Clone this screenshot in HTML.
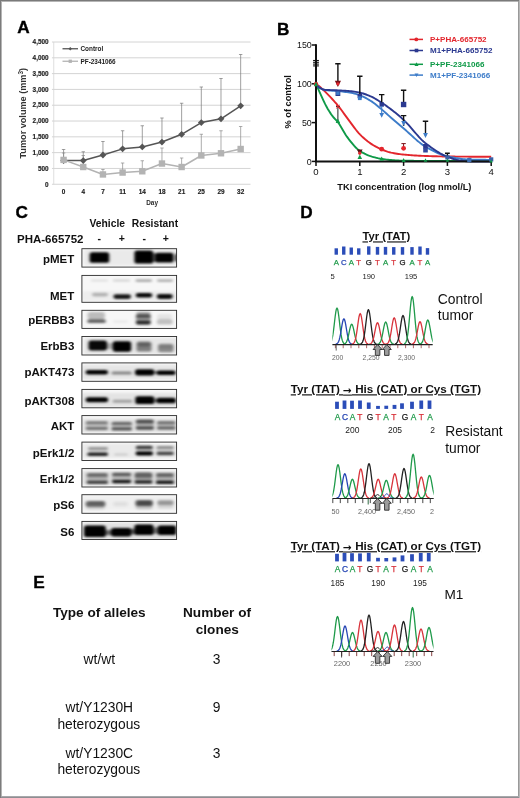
<!DOCTYPE html>
<html lang="en"><head><meta charset="utf-8"><title>Figure</title>
<style>html,body{margin:0;padding:0;background:#fff}body{width:520px;height:798px;overflow:hidden}svg{display:block;font-family:"Liberation Sans",Arial,sans-serif}</style></head><body>
<svg width="520" height="798" viewBox="0 0 520 798">
<defs><filter id="blur" x="-20%" y="-50%" width="140%" height="200%"><feGaussianBlur stdDeviation="1.35 1.05"/></filter></defs>
<rect x="0" y="0" width="520" height="798" fill="#fff"/>
<g shape-rendering="crispEdges"><rect x="0" y="0" width="520" height="1" fill="#7a7a7a"/><rect x="1" y="1" width="518" height="1" fill="#b5b5b5"/><rect x="0" y="796" width="520" height="1" fill="#a8a8ab"/><rect x="0" y="797" width="520" height="1" fill="#8e8e92"/><rect x="0" y="0" width="1" height="798" fill="#7c7c7c"/><rect x="1" y="1" width="1" height="795" fill="#b5b5b5"/><rect x="518" y="1" width="1" height="795" fill="#999"/><rect x="519" y="0" width="1" height="798" fill="#b8b8b8"/></g>
<g id="panelA">
<text x="17.2" y="33.1" font-size="17.2" font-weight="bold" fill="#000" text-anchor="start" stroke="#000" stroke-width="0.35">A</text>
<line x1="51.95" x2="250.5" y1="184.25" y2="184.25" stroke="#c6c6c6" stroke-width="0.75"/>
<text x="48.6" y="186.5" font-size="6.4" font-weight="bold" fill="#222" text-anchor="end" stroke="#222" stroke-width="0.15">0</text>
<line x1="51.95" x2="250.5" y1="168.44" y2="168.44" stroke="#c6c6c6" stroke-width="0.75"/>
<text x="48.6" y="170.69" font-size="6.4" font-weight="bold" fill="#222" text-anchor="end" stroke="#222" stroke-width="0.15">500</text>
<line x1="51.95" x2="250.5" y1="152.64" y2="152.64" stroke="#c6c6c6" stroke-width="0.75"/>
<text x="48.6" y="154.89" font-size="6.4" font-weight="bold" fill="#222" text-anchor="end" stroke="#222" stroke-width="0.15">1,000</text>
<line x1="51.95" x2="250.5" y1="136.83" y2="136.83" stroke="#c6c6c6" stroke-width="0.75"/>
<text x="48.6" y="139.08" font-size="6.4" font-weight="bold" fill="#222" text-anchor="end" stroke="#222" stroke-width="0.15">1,500</text>
<line x1="51.95" x2="250.5" y1="121.03" y2="121.03" stroke="#c6c6c6" stroke-width="0.75"/>
<text x="48.6" y="123.28" font-size="6.4" font-weight="bold" fill="#222" text-anchor="end" stroke="#222" stroke-width="0.15">2,000</text>
<line x1="51.95" x2="250.5" y1="105.22" y2="105.22" stroke="#c6c6c6" stroke-width="0.75"/>
<text x="48.6" y="107.47" font-size="6.4" font-weight="bold" fill="#222" text-anchor="end" stroke="#222" stroke-width="0.15">2,500</text>
<line x1="51.95" x2="250.5" y1="89.42" y2="89.42" stroke="#c6c6c6" stroke-width="0.75"/>
<text x="48.6" y="91.67" font-size="6.4" font-weight="bold" fill="#222" text-anchor="end" stroke="#222" stroke-width="0.15">3,000</text>
<line x1="51.95" x2="250.5" y1="73.61" y2="73.61" stroke="#c6c6c6" stroke-width="0.75"/>
<text x="48.6" y="75.86" font-size="6.4" font-weight="bold" fill="#222" text-anchor="end" stroke="#222" stroke-width="0.15">3,500</text>
<line x1="51.95" x2="250.5" y1="57.81" y2="57.81" stroke="#c6c6c6" stroke-width="0.75"/>
<text x="48.6" y="60.06" font-size="6.4" font-weight="bold" fill="#222" text-anchor="end" stroke="#222" stroke-width="0.15">4,000</text>
<line x1="51.95" x2="250.5" y1="42" y2="42" stroke="#c6c6c6" stroke-width="0.75"/>
<text x="48.6" y="44.25" font-size="6.4" font-weight="bold" fill="#222" text-anchor="end" stroke="#222" stroke-width="0.15">4,500</text>
<line x1="53.75" x2="53.75" y1="42" y2="184.25" stroke="#d6d6d6" stroke-width="0.8"/>
<text x="63.59" y="194.4" font-size="6.4" font-weight="bold" fill="#222" text-anchor="middle" stroke="#222" stroke-width="0.15">0</text>
<text x="83.26" y="194.4" font-size="6.4" font-weight="bold" fill="#222" text-anchor="middle" stroke="#222" stroke-width="0.15">4</text>
<text x="102.94" y="194.4" font-size="6.4" font-weight="bold" fill="#222" text-anchor="middle" stroke="#222" stroke-width="0.15">7</text>
<text x="122.61" y="194.4" font-size="6.4" font-weight="bold" fill="#222" text-anchor="middle" stroke="#222" stroke-width="0.15">11</text>
<text x="142.29" y="194.4" font-size="6.4" font-weight="bold" fill="#222" text-anchor="middle" stroke="#222" stroke-width="0.15">14</text>
<text x="161.96" y="194.4" font-size="6.4" font-weight="bold" fill="#222" text-anchor="middle" stroke="#222" stroke-width="0.15">18</text>
<text x="181.64" y="194.4" font-size="6.4" font-weight="bold" fill="#222" text-anchor="middle" stroke="#222" stroke-width="0.15">21</text>
<text x="201.31" y="194.4" font-size="6.4" font-weight="bold" fill="#222" text-anchor="middle" stroke="#222" stroke-width="0.15">25</text>
<text x="220.99" y="194.4" font-size="6.4" font-weight="bold" fill="#222" text-anchor="middle" stroke="#222" stroke-width="0.15">29</text>
<text x="240.66" y="194.4" font-size="6.4" font-weight="bold" fill="#222" text-anchor="middle" stroke="#222" stroke-width="0.15">32</text>
<text x="152.1" y="204.8" font-size="6.4" font-weight="bold" fill="#2a2a2a" text-anchor="middle">Day</text>
<text transform="translate(25.8,113.2) rotate(-90)" font-size="9.15" font-weight="bold" fill="#333" text-anchor="middle">Tumor volume (mm<tspan font-size="6.5" dy="-3.2">3</tspan><tspan dy="3.2">)</tspan></text>
<path d="M63.59 160.54V149.5M61.89 149.5H65.29" stroke="#777" stroke-width="0.7" fill="none"/>
<path d="M83.26 160.54V151.75M81.56 151.75H84.96" stroke="#777" stroke-width="0.7" fill="none"/>
<path d="M102.94 155.01V141.5M101.24 141.5H104.64" stroke="#777" stroke-width="0.7" fill="none"/>
<path d="M122.61 148.85V130.75M120.91 130.75H124.31" stroke="#777" stroke-width="0.7" fill="none"/>
<path d="M142.29 146.95V125.75M140.59 125.75H143.99" stroke="#777" stroke-width="0.7" fill="none"/>
<path d="M161.96 142.05V118M160.26 118H163.66" stroke="#777" stroke-width="0.7" fill="none"/>
<path d="M181.64 134.3V103.25M179.94 103.25H183.34" stroke="#777" stroke-width="0.7" fill="none"/>
<path d="M201.31 122.61V87M199.61 87H203.01" stroke="#777" stroke-width="0.7" fill="none"/>
<path d="M220.99 118.81V78.5M219.29 78.5H222.69" stroke="#777" stroke-width="0.7" fill="none"/>
<path d="M240.66 105.85V54.5M238.96 54.5H242.36" stroke="#777" stroke-width="0.7" fill="none"/>
<path d="M63.59 159.91V153M61.89 153H65.29" stroke="#8a8a8a" stroke-width="0.7" fill="none"/>
<path d="M83.26 167.02V155.5M81.56 155.5H84.96" stroke="#8a8a8a" stroke-width="0.7" fill="none"/>
<path d="M102.94 174.45V169.5M101.24 169.5H104.64" stroke="#8a8a8a" stroke-width="0.7" fill="none"/>
<path d="M122.61 172.55V163M120.91 163H124.31" stroke="#8a8a8a" stroke-width="0.7" fill="none"/>
<path d="M142.29 171.29V160.75M140.59 160.75H143.99" stroke="#8a8a8a" stroke-width="0.7" fill="none"/>
<path d="M161.96 163.54V148M160.26 148H163.66" stroke="#8a8a8a" stroke-width="0.7" fill="none"/>
<path d="M181.64 167.02V158M179.94 158H183.34" stroke="#8a8a8a" stroke-width="0.7" fill="none"/>
<path d="M201.31 155.48V134.25M199.61 134.25H203.01" stroke="#8a8a8a" stroke-width="0.7" fill="none"/>
<path d="M220.99 153.27V130.75M219.29 130.75H222.69" stroke="#8a8a8a" stroke-width="0.7" fill="none"/>
<path d="M240.66 149V126.5M238.96 126.5H242.36" stroke="#8a8a8a" stroke-width="0.7" fill="none"/>
<polyline points="63.59,160.54 83.26,160.54 102.94,155.01 122.61,148.85 142.29,146.95 161.96,142.05 181.64,134.3 201.31,122.61 220.99,118.81 240.66,105.85" fill="none" stroke="#555" stroke-width="1.5" stroke-linejoin="round"/>
<path d="M60.19 160.54L63.59 157.14L66.99 160.54L63.59 163.94Z" fill="#555"/>
<path d="M79.86 160.54L83.26 157.14L86.66 160.54L83.26 163.94Z" fill="#555"/>
<path d="M99.54 155.01L102.94 151.61L106.34 155.01L102.94 158.41Z" fill="#555"/>
<path d="M119.21 148.85L122.61 145.45L126.01 148.85L122.61 152.25Z" fill="#555"/>
<path d="M138.89 146.95L142.29 143.55L145.69 146.95L142.29 150.35Z" fill="#555"/>
<path d="M158.56 142.05L161.96 138.65L165.36 142.05L161.96 145.45Z" fill="#555"/>
<path d="M178.24 134.3L181.64 130.9L185.04 134.3L181.64 137.7Z" fill="#555"/>
<path d="M197.91 122.61L201.31 119.21L204.71 122.61L201.31 126.01Z" fill="#555"/>
<path d="M217.59 118.81L220.99 115.41L224.39 118.81L220.99 122.22Z" fill="#555"/>
<path d="M237.26 105.85L240.66 102.45L244.06 105.85L240.66 109.25Z" fill="#555"/>
<polyline points="63.59,159.91 83.26,167.02 102.94,174.45 122.61,172.55 142.29,171.29 161.96,163.54 181.64,167.02 201.31,155.48 220.99,153.27 240.66,149" fill="none" stroke="#b3b3b3" stroke-width="1.5" stroke-linejoin="round"/>
<rect x="60.39" y="156.71" width="6.4" height="6.4" fill="#b3b3b3"/>
<rect x="80.06" y="163.82" width="6.4" height="6.4" fill="#b3b3b3"/>
<rect x="99.74" y="171.25" width="6.4" height="6.4" fill="#b3b3b3"/>
<rect x="119.41" y="169.35" width="6.4" height="6.4" fill="#b3b3b3"/>
<rect x="139.09" y="168.09" width="6.4" height="6.4" fill="#b3b3b3"/>
<rect x="158.76" y="160.34" width="6.4" height="6.4" fill="#b3b3b3"/>
<rect x="178.44" y="163.82" width="6.4" height="6.4" fill="#b3b3b3"/>
<rect x="198.11" y="152.28" width="6.4" height="6.4" fill="#b3b3b3"/>
<rect x="217.79" y="150.07" width="6.4" height="6.4" fill="#b3b3b3"/>
<rect x="237.46" y="145.8" width="6.4" height="6.4" fill="#b3b3b3"/>
<line x1="62.5" x2="78" y1="48.75" y2="48.75" stroke="#555" stroke-width="1.3"/>
<path d="M68.5 48.75L70.25 47L72 48.75L70.25 50.5Z" fill="#555"/>
<text x="80.5" y="50.9" font-size="6.4" font-weight="bold" fill="#222" text-anchor="start">Control</text>
<line x1="62.5" x2="78" y1="61.25" y2="61.25" stroke="#b3b3b3" stroke-width="1.3"/>
<rect x="68.6" y="59.6" width="3.3" height="3.3" fill="#b3b3b3"/>
<text x="80.5" y="63.5" font-size="6.4" font-weight="bold" fill="#222" text-anchor="start">PF-2341066</text>
</g>
<g id="panelB">
<text x="277" y="34.6" font-size="17.2" font-weight="bold" fill="#000" text-anchor="start" stroke="#000" stroke-width="0.35">B</text>
<path d="M316 83.8L317.47 87.19L318.94 90.52L320.42 93.79L321.89 97.03L323.36 100.28L324.83 103.43L326.31 106.32L327.78 108.92L329.25 111.36L330.72 113.63L332.19 115.7L333.67 117.51L335.14 119.1L336.61 120.67L338.08 122.45L339.56 124.57L341.03 126.93L342.5 129.43L343.97 131.95L345.45 134.4L346.92 136.67L348.39 138.66L349.86 140.55L351.33 142.41L352.81 144.2L354.28 145.9L355.75 147.47L357.22 148.89L358.7 150.13L360.17 151.16L361.64 152.08L363.11 152.92L364.58 153.68L366.06 154.38L367.53 155.02L369 155.6L370.47 156.12L371.95 156.6L373.42 157.04L374.89 157.45L376.36 157.83L377.84 158.18L379.31 158.49L380.78 158.76L382.25 159L383.72 159.23L385.2 159.43L386.67 159.62L388.14 159.79L389.61 159.94L391.09 160.07L392.56 160.18L394.03 160.28L395.5 160.37L396.97 160.46L398.45 160.53L399.92 160.6L401.39 160.65L402.86 160.69L404.34 160.71L405.81 160.73L407.28 160.75L408.75 160.77L410.23 160.79L411.7 160.81L413.17 160.82L414.64 160.84L416.11 160.86L417.59 160.87L419.06 160.88L420.53 160.9L422 160.91L423.48 160.92L424.95 160.93L426.42 160.94L427.89 160.95L429.36 160.96L430.84 160.97L432.31 160.98L433.78 160.98L435.25 160.99L436.73 160.99L438.2 161L439.67 161L441.14 161.01L442.62 161.01L444.09 161.01L445.56 161.01L447.03 161.01L448.5 161.01L449.98 161.01L451.45 161.01L452.92 161.01L454.39 161.01L455.87 161.01L457.34 161.01L458.81 161.01L460.28 161.01L461.75 161.01L463.23 161.01L464.7 161.01L466.17 161.01L467.64 161.01L469.12 161.01L470.59 161.01L472.06 161.01L473.53 161.01L475.01 161.01L476.48 161.01L477.95 161.01L479.42 161.01L480.89 161.01L482.37 161.01L483.84 161.01L485.31 161.01L486.78 161.01L488.26 161.01L489.73 161.01L491.2 161.01" fill="none" stroke="#0f9a48" stroke-width="1.9"/>
<path d="M316 83.8L317.47 84.91L318.94 86.09L320.42 87.32L321.89 88.62L323.36 89.99L324.83 91.4L326.31 92.85L327.78 94.34L329.25 95.86L330.72 97.41L332.19 98.99L333.67 100.61L335.14 102.28L336.61 103.99L338.08 105.75L339.56 107.6L341.03 109.55L342.5 111.55L343.97 113.6L345.45 115.65L346.92 117.68L348.39 119.67L349.86 121.61L351.33 123.6L352.81 125.61L354.28 127.59L355.75 129.52L357.22 131.36L358.7 133.06L360.17 134.61L361.64 136.07L363.11 137.46L364.58 138.79L366.06 140.05L367.53 141.24L369 142.35L370.47 143.39L371.95 144.35L373.42 145.26L374.89 146.12L376.36 146.94L377.84 147.7L379.31 148.41L380.78 149.07L382.25 149.67L383.72 150.25L385.2 150.8L386.67 151.32L388.14 151.8L389.61 152.23L391.09 152.61L392.56 152.93L394.03 153.22L395.5 153.49L396.97 153.73L398.45 153.96L399.92 154.16L401.39 154.34L402.86 154.5L404.34 154.64L405.81 154.77L407.28 154.9L408.75 155.02L410.23 155.13L411.7 155.24L413.17 155.34L414.64 155.43L416.11 155.52L417.59 155.61L419.06 155.69L420.53 155.76L422 155.83L423.48 155.89L424.95 155.95L426.42 156L427.89 156.05L429.36 156.1L430.84 156.15L432.31 156.19L433.78 156.24L435.25 156.28L436.73 156.32L438.2 156.35L439.67 156.39L441.14 156.42L442.62 156.45L444.09 156.47L445.56 156.49L447.03 156.51L448.5 156.52L449.98 156.54L451.45 156.55L452.92 156.56L454.39 156.57L455.87 156.59L457.34 156.6L458.81 156.61L460.28 156.62L461.75 156.63L463.23 156.64L464.7 156.65L466.17 156.66L467.64 156.67L469.12 156.68L470.59 156.69L472.06 156.69L473.53 156.7L475.01 156.71L476.48 156.71L477.95 156.72L479.42 156.72L480.89 156.73L482.37 156.73L483.84 156.74L485.31 156.74L486.78 156.74L488.26 156.74L489.73 156.74L491.2 156.74" fill="none" stroke="#e3262d" stroke-width="1.9"/>
<path d="M316 84.58L317.47 86.07L318.94 87.31L320.42 88.22L321.89 89.02L323.36 89.65L324.83 90.02L326.31 90.22L327.78 90.38L329.25 90.5L330.72 90.6L332.19 90.69L333.67 90.78L335.14 90.87L336.61 90.98L338.08 91.11L339.56 91.26L341.03 91.42L342.5 91.58L343.97 91.75L345.45 91.94L346.92 92.14L348.39 92.36L349.86 92.59L351.33 92.86L352.81 93.17L354.28 93.53L355.75 93.95L357.22 94.4L358.7 94.89L360.17 95.42L361.64 96.01L363.11 96.66L364.58 97.37L366.06 98.14L367.53 98.96L369 99.81L370.47 100.7L371.95 101.64L373.42 102.68L374.89 103.79L376.36 104.96L377.84 106.17L379.31 107.4L380.78 108.64L382.25 109.87L383.72 111.13L385.2 112.43L386.67 113.75L388.14 115.08L389.61 116.41L391.09 117.73L392.56 119.03L394.03 120.3L395.5 121.57L396.97 122.82L398.45 124.07L399.92 125.32L401.39 126.56L402.86 127.8L404.34 129.05L405.81 130.33L407.28 131.64L408.75 132.98L410.23 134.32L411.7 135.67L413.17 137.02L414.64 138.34L416.11 139.64L417.59 140.91L419.06 142.12L420.53 143.28L422 144.38L423.48 145.4L424.95 146.33L426.42 147.19L427.89 148.02L429.36 148.85L430.84 149.65L432.31 150.44L433.78 151.19L435.25 151.92L436.73 152.62L438.2 153.28L439.67 153.9L441.14 154.47L442.62 155L444.09 155.48L445.56 155.91L447.03 156.27L448.5 156.6L449.98 156.91L451.45 157.21L452.92 157.51L454.39 157.79L455.87 158.06L457.34 158.31L458.81 158.55L460.28 158.76L461.75 158.95L463.23 159.12L464.7 159.27L466.17 159.39L467.64 159.47L469.12 159.53L470.59 159.57L472.06 159.61L473.53 159.64L475.01 159.67L476.48 159.7L477.95 159.73L479.42 159.75L480.89 159.77L482.37 159.79L483.84 159.81L485.31 159.82L486.78 159.83L488.26 159.84L489.73 159.85L491.2 159.85" fill="none" stroke="#3d7cc9" stroke-width="1.9"/>
<path d="M316 84.58L317.47 86.09L318.94 87.33L320.42 88.19L321.89 88.93L323.36 89.5L324.83 89.78L326.31 89.89L327.78 89.97L329.25 90.03L330.72 90.08L332.19 90.12L333.67 90.16L335.14 90.21L336.61 90.26L338.08 90.33L339.56 90.41L341.03 90.49L342.5 90.58L343.97 90.67L345.45 90.77L346.92 90.88L348.39 91L349.86 91.14L351.33 91.28L352.81 91.45L354.28 91.65L355.75 91.88L357.22 92.13L358.7 92.42L360.17 92.73L361.64 93.09L363.11 93.51L364.58 93.98L366.06 94.49L367.53 95.05L369 95.64L370.47 96.25L371.95 96.92L373.42 97.66L374.89 98.48L376.36 99.35L377.84 100.26L379.31 101.19L380.78 102.14L382.25 103.09L383.72 104.06L385.2 105.07L386.67 106.1L388.14 107.17L389.61 108.26L391.09 109.37L392.56 110.5L394.03 111.66L395.5 112.84L396.97 114.05L398.45 115.29L399.92 116.56L401.39 117.86L402.86 119.2L404.34 120.58L405.81 122.06L407.28 123.61L408.75 125.23L410.23 126.9L411.7 128.6L413.17 130.32L414.64 132.04L416.11 133.75L417.59 135.42L419.06 137.04L420.53 138.6L422 140.08L423.48 141.46L424.95 142.72L426.42 143.88L427.89 145.01L429.36 146.12L430.84 147.2L432.31 148.25L433.78 149.27L435.25 150.26L436.73 151.21L438.2 152.12L439.67 152.99L441.14 153.81L442.62 154.59L444.09 155.31L445.56 155.98L447.03 156.6L448.5 157.17L449.98 157.73L451.45 158.26L452.92 158.77L454.39 159.24L455.87 159.66L457.34 160.03L458.81 160.35L460.28 160.59L461.75 160.78L463.23 160.96L464.7 161.11L466.17 161.24L467.64 161.34L469.12 161.4L470.59 161.43L472.06 161.46L473.53 161.48L475.01 161.51L476.48 161.53L477.95 161.55L479.42 161.57L480.89 161.58L482.37 161.6L483.84 161.61L485.31 161.62L486.78 161.62L488.26 161.63L489.73 161.63L491.2 161.63" fill="none" stroke="#2b3990" stroke-width="1.9"/>
<path d="M316 44.2V161.4H492" fill="none" stroke="#111" stroke-width="2"/>
<line x1="311.8" x2="316" y1="161.4" y2="161.4" stroke="#111" stroke-width="1.5"/>
<text x="311.8" y="164.6" font-size="8.9" font-weight="normal" fill="#111" text-anchor="end">0</text>
<line x1="311.8" x2="316" y1="122.6" y2="122.6" stroke="#111" stroke-width="1.5"/>
<text x="311.8" y="125.8" font-size="8.9" font-weight="normal" fill="#111" text-anchor="end">50</text>
<line x1="311.8" x2="316" y1="83.8" y2="83.8" stroke="#111" stroke-width="1.5"/>
<text x="311.8" y="87" font-size="8.9" font-weight="normal" fill="#111" text-anchor="end">100</text>
<line x1="311.8" x2="316" y1="45" y2="45" stroke="#111" stroke-width="1.5"/>
<text x="311.8" y="48.2" font-size="8.9" font-weight="normal" fill="#111" text-anchor="end">150</text>
<line x1="316" x2="316" y1="161.4" y2="165.9" stroke="#111" stroke-width="1.5"/>
<text x="316" y="175.3" font-size="9.6" font-weight="normal" fill="#111" text-anchor="middle">0</text>
<line x1="359.8" x2="359.8" y1="161.4" y2="165.9" stroke="#111" stroke-width="1.5"/>
<text x="359.8" y="175.3" font-size="9.6" font-weight="normal" fill="#111" text-anchor="middle">1</text>
<line x1="403.6" x2="403.6" y1="161.4" y2="165.9" stroke="#111" stroke-width="1.5"/>
<text x="403.6" y="175.3" font-size="9.6" font-weight="normal" fill="#111" text-anchor="middle">2</text>
<line x1="447.4" x2="447.4" y1="161.4" y2="165.9" stroke="#111" stroke-width="1.5"/>
<text x="447.4" y="175.3" font-size="9.6" font-weight="normal" fill="#111" text-anchor="middle">3</text>
<line x1="491.2" x2="491.2" y1="161.4" y2="165.9" stroke="#111" stroke-width="1.5"/>
<text x="491.2" y="175.3" font-size="9.6" font-weight="normal" fill="#111" text-anchor="middle">4</text>
<text x="404.4" y="190.3" font-size="9.25" font-weight="bold" fill="#111" text-anchor="middle">TKI concentration (log nmol/L)</text>
<text transform="translate(290.6,101.8) rotate(-90)" font-size="9.25" font-weight="bold" fill="#111" text-anchor="middle">% of control</text>
<line x1="313.1" x2="318.9" y1="60.5" y2="60.5" stroke="#111" stroke-width="1.1"/>
<line x1="313.1" x2="318.9" y1="62.3" y2="62.3" stroke="#111" stroke-width="1.1"/>
<line x1="313.1" x2="318.9" y1="64.1" y2="64.1" stroke="#111" stroke-width="1.1"/>
<line x1="313.1" x2="318.9" y1="65.9" y2="65.9" stroke="#111" stroke-width="1.1"/>
<circle cx="316" cy="84" r="2.2" fill="#e3262d"/>
<path d="M313.8 86.2L318.2 86.2L316 81.8Z" fill="#0f9a48"/>
<path d="M337.9 63.8V82M335.2 63.8H340.6" fill="none" stroke="#111" stroke-width="1.4"/>
<path d="M334.8 80.7L341 80.7L337.9 86.9Z" fill="#7a1018"/>
<circle cx="337.9" cy="83.8" r="1.6" fill="#e3262d"/>
<rect x="335.5" y="91.2" width="4.8" height="4.8" fill="#2b3990"/>
<rect x="336.2" y="91.5" width="3.4" height="3.4" fill="#3d7cc9"/>
<path d="M337.9 106.5V120.5M336.1 106.5H339.7" fill="none" stroke="#222" stroke-width="1.0"/>
<path d="M336.1 105L339.7 108.4M336.1 108.4L339.7 105" stroke="#e3262d" stroke-width="1" fill="none"/>
<path d="M335.7 123L340.1 123L337.9 118.6Z" fill="#0f9a48"/>
<path d="M359.8 76.3V94M357.1 76.3H362.5" fill="none" stroke="#111" stroke-width="1.4"/>
<rect x="357.6" y="93.8" width="4.4" height="4.4" fill="#2b3990"/>
<rect x="357.9" y="96.3" width="3.8" height="3.8" fill="#3d7cc9"/>
<path d="M357 149.5L362.6 149.5L359.8 155.1Z" fill="#5a0f14"/>
<circle cx="359.8" cy="153.2" r="1.6" fill="#e3262d"/>
<path d="M357.5 159.1L362.1 159.1L359.8 154.5Z" fill="#0f9a48"/>
<path d="M381.7 94.6V104M379 94.6H384.4" fill="none" stroke="#111" stroke-width="1.4"/>
<rect x="379.5" y="102.3" width="4.4" height="4.4" fill="#2b3990"/>
<path d="M379.3 113L384.1 113L381.7 117.8Z" fill="#3d7cc9"/>
<path d="M381.7 106V115" fill="none" stroke="#3d7cc9" stroke-width="1.1"/>
<circle cx="381.7" cy="149.2" r="2.4" fill="#e3262d"/>
<path d="M379.5 160.8L383.9 160.8L381.7 156.4Z" fill="#0f9a48"/>
<path d="M403.6 90.3V102M400.9 90.3H406.3" fill="none" stroke="#111" stroke-width="1.4"/>
<rect x="400.9" y="101.8" width="5.4" height="5.4" fill="#2b3990"/>
<path d="M403.6 115.6V126M400.9 115.6H406.3" fill="none" stroke="#111" stroke-width="1.4"/>
<path d="M401.2 121.1L406 121.1L403.6 125.9Z" fill="#3d7cc9"/>
<path d="M403.6 143.6V147M401.4 143.6H405.8" fill="none" stroke="#7a1018" stroke-width="1.0"/>
<circle cx="403.6" cy="148.3" r="2.4" fill="#e3262d"/>
<path d="M401.6 162L405.6 162L403.6 158Z" fill="#0f9a48"/>
<path d="M425.5 121.2V136M422.8 121.2H428.2" fill="none" stroke="#111" stroke-width="1.4"/>
<path d="M423.1 133.1L427.9 133.1L425.5 137.9Z" fill="#3d7cc9"/>
<rect x="423.2" y="144" width="4.6" height="4.6" fill="#2b3990"/>
<rect x="423.2" y="147.9" width="4.6" height="4.6" fill="#33489c"/>
<path d="M423.7 161.8L427.3 161.8L425.5 158.2Z" fill="#0f9a48"/>
<path d="M447.4 153.3V157M445 153.3H449.8" fill="none" stroke="#111" stroke-width="1.4"/>
<rect x="445.3" y="155.3" width="4.2" height="4.2" fill="#3b5fa6"/>
<path d="M445.8 161.8L449 161.8L447.4 158.6Z" fill="#0f9a48"/>
<rect x="467.2" y="157.9" width="4.2" height="4.2" fill="#3e6fb5"/>
<rect x="489.1" y="157.3" width="4.2" height="4.2" fill="#3b5fa6"/>
<path d="M489.6 162.6L492.8 162.6L491.2 159.4Z" fill="#0f9a48"/>
<line x1="409.5" x2="423" y1="39.4" y2="39.4" stroke="#e3262d" stroke-width="1.5"/>
<circle cx="416.3" cy="39.4" r="1.9" fill="#e3262d"/>
<text x="430" y="42.3" font-size="8.05" font-weight="bold" fill="#e3262d" text-anchor="start">P+PHA-665752</text>
<line x1="409.5" x2="423" y1="50.5" y2="50.5" stroke="#2b3990" stroke-width="1.5"/>
<rect x="414.7" y="48.7" width="3.6" height="3.6" fill="#2b3990"/>
<text x="430" y="53.4" font-size="8.05" font-weight="bold" fill="#2b3990" text-anchor="start">M1+PHA-665752</text>
<line x1="409.5" x2="423" y1="64.3" y2="64.3" stroke="#0f9a48" stroke-width="1.5"/>
<path d="M414.5 65.9L418.5 65.9L416.5 62.3Z" fill="#0f9a48"/>
<text x="430" y="67.2" font-size="8.05" font-weight="bold" fill="#0f9a48" text-anchor="start">P+PF-2341066</text>
<line x1="409.5" x2="423" y1="75.1" y2="75.1" stroke="#3d7cc9" stroke-width="1.5"/>
<path d="M414.5 73.5L418.5 73.5L416.5 77.1Z" fill="#3d7cc9"/>
<text x="430" y="78" font-size="8.05" font-weight="bold" fill="#3d7cc9" text-anchor="start">M1+PF-2341066</text>
</g>
<g id="panelC">
<text x="15.4" y="218.4" font-size="17.2" font-weight="bold" fill="#000" text-anchor="start" stroke="#000" stroke-width="0.35">C</text>
<text x="107.3" y="226.6" font-size="10.3" font-weight="bold" fill="#111" text-anchor="middle">Vehicle</text>
<text x="154.9" y="226.6" font-size="10.3" font-weight="bold" fill="#111" text-anchor="middle">Resistant</text>
<text x="17" y="242.6" font-size="11.5" font-weight="bold" fill="#111" text-anchor="start">PHA-665752</text>
<text x="99.3" y="241.8" font-size="10.5" font-weight="bold" fill="#111" text-anchor="middle">-</text>
<text x="121.8" y="241.8" font-size="10.5" font-weight="bold" fill="#111" text-anchor="middle">+</text>
<text x="144.3" y="241.8" font-size="10.5" font-weight="bold" fill="#111" text-anchor="middle">-</text>
<text x="165.8" y="241.8" font-size="10.5" font-weight="bold" fill="#111" text-anchor="middle">+</text>
<text x="74.3" y="262.7" font-size="11.5" font-weight="bold" fill="#111" text-anchor="end">pMET</text>
<clipPath id="cb0"><rect x="81.9" y="248.7" width="94.7" height="18.4"/></clipPath>
<rect x="81.9" y="248.7" width="94.7" height="18.4" fill="#f7f7f7"/>
<g clip-path="url(#cb0)"><g filter="url(#blur)">
<rect x="89.6" y="252.2" width="19.6" height="10.6" rx="2.6" fill="#000" fill-opacity="1"/>
<rect x="134.4" y="250.6" width="18.8" height="13" rx="2.6" fill="#000" fill-opacity="1"/>
<rect x="155.2" y="252.8" width="18.4" height="9.8" rx="2.6" fill="#000" fill-opacity="1"/>
<rect x="150" y="253.2" width="8" height="8.8" rx="2.6" fill="#000" fill-opacity="0.6"/>
<rect x="175.6" y="253.3" width="4.4" height="8.8" rx="2.6" fill="#000" fill-opacity="1"/>
<rect x="84" y="249.5" width="94" height="16" rx="2.6" fill="#000" fill-opacity="0.05"/>
</g></g>
<rect x="81.9" y="248.7" width="94.7" height="18.4" fill="none" stroke="#2a2a2a" stroke-width="0.9"/>
<text x="74.3" y="299.55" font-size="11.5" font-weight="bold" fill="#111" text-anchor="end">MET</text>
<clipPath id="cb1"><rect x="81.9" y="275.4" width="94.7" height="26.9"/></clipPath>
<rect x="81.9" y="275.4" width="94.7" height="26.9" fill="#f7f7f7"/>
<g clip-path="url(#cb1)"><g filter="url(#blur)">
<rect x="91" y="279.4" width="17" height="2" rx="1" fill="#000" fill-opacity="0.1"/>
<rect x="113" y="279.6" width="17" height="2" rx="1" fill="#000" fill-opacity="0.16"/>
<rect x="135.5" y="279.3" width="16.5" height="2.6" rx="1.3" fill="#000" fill-opacity="0.3"/>
<rect x="157" y="279.3" width="16" height="2.6" rx="1.3" fill="#000" fill-opacity="0.28"/>
<rect x="92" y="292.8" width="16" height="3.6" rx="1.8" fill="#000" fill-opacity="0.25"/>
<rect x="113.4" y="294.3" width="17.6" height="4.6" rx="2.3" fill="#000" fill-opacity="0.9"/>
<rect x="135.8" y="293.1" width="16.4" height="4.4" rx="2.2" fill="#000" fill-opacity="0.97"/>
<rect x="156.8" y="294.1" width="15.9" height="4.8" rx="2.4" fill="#000" fill-opacity="0.95"/>
<rect x="82" y="291" width="96" height="10" rx="2.6" fill="#000" fill-opacity="0.04"/>
</g></g>
<rect x="81.9" y="275.4" width="94.7" height="26.9" fill="none" stroke="#2a2a2a" stroke-width="0.9"/>
<text x="74.3" y="324.15" font-size="11.5" font-weight="bold" fill="#111" text-anchor="end">pERBB3</text>
<clipPath id="cb2"><rect x="81.9" y="310.3" width="94.7" height="18.1"/></clipPath>
<rect x="81.9" y="310.3" width="94.7" height="18.1" fill="#f7f7f7"/>
<g clip-path="url(#cb2)"><g filter="url(#blur)">
<rect x="87.3" y="319.3" width="18.5" height="3.8" rx="1.9" fill="#000" fill-opacity="0.6"/>
<rect x="87.5" y="312.1" width="17.5" height="6.8" rx="2.6" fill="#000" fill-opacity="0.24"/>
<rect x="113" y="320.2" width="15" height="2.8" rx="1.4" fill="#000" fill-opacity="0.05"/>
<rect x="135.8" y="313.8" width="15" height="4.4" rx="2.2" fill="#000" fill-opacity="0.5"/>
<rect x="135.8" y="320.4" width="15" height="4.4" rx="2.2" fill="#000" fill-opacity="0.75"/>
<rect x="136.5" y="311.5" width="14" height="3" rx="1.5" fill="#000" fill-opacity="0.25"/>
<rect x="135.8" y="314.6" width="15" height="9.2" rx="2.6" fill="#000" fill-opacity="0.32"/>
<rect x="156.8" y="319" width="15.9" height="5.6" rx="2.6" fill="#000" fill-opacity="0.22"/>
<rect x="157" y="314" width="15" height="5" rx="2.5" fill="#000" fill-opacity="0.08"/>
</g></g>
<rect x="81.9" y="310.3" width="94.7" height="18.1" fill="none" stroke="#2a2a2a" stroke-width="0.9"/>
<text x="74.3" y="349.85" font-size="11.5" font-weight="bold" fill="#111" text-anchor="end">ErbB3</text>
<clipPath id="cb3"><rect x="81.9" y="336.5" width="94.7" height="18.5"/></clipPath>
<rect x="81.9" y="336.5" width="94.7" height="18.5" fill="#f7f7f7"/>
<g clip-path="url(#cb3)"><g filter="url(#blur)">
<rect x="88.5" y="340.4" width="18.5" height="10" rx="2.6" fill="#000" fill-opacity="0.97"/>
<rect x="112.7" y="341.3" width="18.5" height="10.4" rx="2.6" fill="#000" fill-opacity="1"/>
<rect x="106" y="343" width="8" height="6" rx="2.6" fill="#000" fill-opacity="0.25"/>
<rect x="136.5" y="341.6" width="15" height="10" rx="2.6" fill="#000" fill-opacity="0.46"/>
<rect x="137.5" y="342.8" width="13" height="3.6" rx="1.8" fill="#000" fill-opacity="0.25"/>
<rect x="158" y="343.8" width="15.5" height="8.4" rx="2.6" fill="#000" fill-opacity="0.4"/>
<rect x="158.5" y="345.4" width="14.5" height="3.2" rx="1.6" fill="#000" fill-opacity="0.12"/>
<rect x="84" y="338" width="94" height="16" rx="2.6" fill="#000" fill-opacity="0.07"/>
</g></g>
<rect x="81.9" y="336.5" width="94.7" height="18.5" fill="none" stroke="#2a2a2a" stroke-width="0.9"/>
<text x="74.3" y="376.2" font-size="11.5" font-weight="bold" fill="#111" text-anchor="end">pAKT473</text>
<clipPath id="cb4"><rect x="81.9" y="362.9" width="94.7" height="18.4"/></clipPath>
<rect x="81.9" y="362.9" width="94.7" height="18.4" fill="#f7f7f7"/>
<g clip-path="url(#cb4)"><g filter="url(#blur)">
<rect x="85.7" y="369.9" width="22.3" height="4.6" rx="2.3" fill="#000" fill-opacity="1"/>
<rect x="111.5" y="371.6" width="20.3" height="3" rx="1.5" fill="#000" fill-opacity="0.42"/>
<rect x="135" y="369.2" width="19.4" height="6.2" rx="2.6" fill="#000" fill-opacity="1"/>
<rect x="156.3" y="370.4" width="19.4" height="4.6" rx="2.3" fill="#000" fill-opacity="1"/>
<rect x="152" y="371.1" width="6" height="3" rx="1.5" fill="#000" fill-opacity="0.3"/>
<rect x="82" y="365" width="96" height="14" rx="2.6" fill="#000" fill-opacity="0.07"/>
</g></g>
<rect x="81.9" y="362.9" width="94.7" height="18.4" fill="none" stroke="#2a2a2a" stroke-width="0.9"/>
<text x="74.3" y="404.8" font-size="11.5" font-weight="bold" fill="#111" text-anchor="end">pAKT308</text>
<clipPath id="cb5"><rect x="81.9" y="389.4" width="94.7" height="18.4"/></clipPath>
<rect x="81.9" y="389.4" width="94.7" height="18.4" fill="#f7f7f7"/>
<g clip-path="url(#cb5)"><g filter="url(#blur)">
<rect x="85.7" y="397.3" width="22.4" height="5" rx="2.5" fill="#000" fill-opacity="1"/>
<rect x="112.7" y="399.8" width="19.6" height="3" rx="1.5" fill="#000" fill-opacity="0.3"/>
<rect x="135.3" y="396.3" width="19.1" height="7.8" rx="2.6" fill="#000" fill-opacity="1"/>
<rect x="156.3" y="397.7" width="19.6" height="5.6" rx="2.6" fill="#000" fill-opacity="1"/>
<rect x="152" y="398.4" width="6" height="4" rx="2" fill="#000" fill-opacity="0.35"/>
<rect x="82" y="393" width="96" height="14" rx="2.6" fill="#000" fill-opacity="0.08"/>
</g></g>
<rect x="81.9" y="389.4" width="94.7" height="18.4" fill="none" stroke="#2a2a2a" stroke-width="0.9"/>
<text x="74.3" y="429.9" font-size="11.5" font-weight="bold" fill="#111" text-anchor="end">AKT</text>
<clipPath id="cb6"><rect x="81.9" y="415.6" width="94.7" height="18.4"/></clipPath>
<rect x="81.9" y="415.6" width="94.7" height="18.4" fill="#f7f7f7"/>
<g clip-path="url(#cb6)"><g filter="url(#blur)">
<rect x="85.7" y="421.2" width="22.3" height="3" rx="1.5" fill="#000" fill-opacity="0.38"/>
<rect x="85.7" y="427" width="22.3" height="3" rx="1.5" fill="#000" fill-opacity="0.42"/>
<rect x="111.5" y="421.9" width="20.5" height="3" rx="1.5" fill="#000" fill-opacity="0.45"/>
<rect x="111.5" y="427.3" width="20.5" height="3.2" rx="1.6" fill="#000" fill-opacity="0.55"/>
<rect x="135.8" y="419.6" width="18.2" height="4" rx="2" fill="#000" fill-opacity="0.55"/>
<rect x="135.8" y="426.4" width="18.2" height="3.2" rx="1.6" fill="#000" fill-opacity="0.6"/>
<rect x="157" y="421.2" width="18.5" height="3" rx="1.5" fill="#000" fill-opacity="0.42"/>
<rect x="157" y="426.5" width="18.5" height="3" rx="1.5" fill="#000" fill-opacity="0.48"/>
<rect x="82" y="418.5" width="96" height="14" rx="2.6" fill="#000" fill-opacity="0.08"/>
<rect x="85.7" y="421" width="22.3" height="9.2" rx="2.6" fill="#000" fill-opacity="0.15"/>
<rect x="111.5" y="421.4" width="20.5" height="9.2" rx="2.6" fill="#000" fill-opacity="0.17"/>
<rect x="135.8" y="419.8" width="18.2" height="10.4" rx="2.6" fill="#000" fill-opacity="0.22"/>
<rect x="157" y="420.8" width="18.5" height="9.2" rx="2.6" fill="#000" fill-opacity="0.17"/>
</g></g>
<rect x="81.9" y="415.6" width="94.7" height="18.4" fill="none" stroke="#2a2a2a" stroke-width="0.9"/>
<text x="74.3" y="457.1" font-size="11.5" font-weight="bold" fill="#111" text-anchor="end">pErk1/2</text>
<clipPath id="cb7"><rect x="81.9" y="442.1" width="94.7" height="18.4"/></clipPath>
<rect x="81.9" y="442.1" width="94.7" height="18.4" fill="#f7f7f7"/>
<g clip-path="url(#cb7)"><g filter="url(#blur)">
<rect x="88" y="447.1" width="20" height="2.8" rx="1.4" fill="#000" fill-opacity="0.3"/>
<rect x="87.3" y="452.5" width="20.7" height="3.6" rx="1.8" fill="#000" fill-opacity="0.85"/>
<rect x="114" y="453.3" width="14" height="2.4" rx="1.2" fill="#000" fill-opacity="0.12"/>
<rect x="135.8" y="445.7" width="17" height="3.4" rx="1.7" fill="#000" fill-opacity="0.7"/>
<rect x="135.6" y="451.4" width="17.4" height="4" rx="2" fill="#000" fill-opacity="1"/>
<rect x="156.5" y="446.1" width="17.3" height="3" rx="1.5" fill="#000" fill-opacity="0.33"/>
<rect x="156.5" y="451.8" width="17.3" height="3.4" rx="1.7" fill="#000" fill-opacity="0.68"/>
<rect x="82" y="444" width="96" height="14" rx="2.6" fill="#000" fill-opacity="0.05"/>
<rect x="135.8" y="445.6" width="17" height="9.6" rx="2.6" fill="#000" fill-opacity="0.16"/>
<rect x="156.5" y="445.9" width="17.3" height="9.2" rx="2.6" fill="#000" fill-opacity="0.1"/>
<rect x="88" y="447.1" width="20" height="8.8" rx="2.6" fill="#000" fill-opacity="0.08"/>
</g></g>
<rect x="81.9" y="442.1" width="94.7" height="18.4" fill="none" stroke="#2a2a2a" stroke-width="0.9"/>
<text x="74.3" y="482.6" font-size="11.5" font-weight="bold" fill="#111" text-anchor="end">Erk1/2</text>
<clipPath id="cb8"><rect x="81.9" y="468.6" width="94.7" height="18.4"/></clipPath>
<rect x="81.9" y="468.6" width="94.7" height="18.4" fill="#f7f7f7"/>
<g clip-path="url(#cb8)"><g filter="url(#blur)">
<rect x="86.6" y="472.9" width="21.4" height="4.2" rx="2.1" fill="#000" fill-opacity="0.4"/>
<rect x="86.6" y="480.8" width="21.4" height="3.2" rx="1.6" fill="#000" fill-opacity="0.65"/>
<rect x="112" y="472.7" width="19.2" height="3.2" rx="1.6" fill="#000" fill-opacity="0.5"/>
<rect x="112" y="479.9" width="19.2" height="3.4" rx="1.7" fill="#000" fill-opacity="0.88"/>
<rect x="134.6" y="472.6" width="17.8" height="5.2" rx="2.6" fill="#000" fill-opacity="0.42"/>
<rect x="134.6" y="480.4" width="17.8" height="3.2" rx="1.6" fill="#000" fill-opacity="0.82"/>
<rect x="155.9" y="472.9" width="18.1" height="4.2" rx="2.1" fill="#000" fill-opacity="0.42"/>
<rect x="155.9" y="480.7" width="18.1" height="3.4" rx="1.7" fill="#000" fill-opacity="0.88"/>
<rect x="82" y="471" width="96" height="14" rx="2.6" fill="#000" fill-opacity="0.09"/>
<rect x="86.6" y="473" width="21.4" height="10.8" rx="2.6" fill="#000" fill-opacity="0.2"/>
<rect x="112" y="472.8" width="19.2" height="10.4" rx="2.6" fill="#000" fill-opacity="0.2"/>
<rect x="134.6" y="472.4" width="17.8" height="11.6" rx="2.6" fill="#000" fill-opacity="0.26"/>
<rect x="155.9" y="473" width="18.1" height="10.8" rx="2.6" fill="#000" fill-opacity="0.22"/>
</g></g>
<rect x="81.9" y="468.6" width="94.7" height="18.4" fill="none" stroke="#2a2a2a" stroke-width="0.9"/>
<text x="74.3" y="508.8" font-size="11.5" font-weight="bold" fill="#111" text-anchor="end">pS6</text>
<clipPath id="cb9"><rect x="81.9" y="494.7" width="94.7" height="18.6"/></clipPath>
<rect x="81.9" y="494.7" width="94.7" height="18.6" fill="#f7f7f7"/>
<g clip-path="url(#cb9)"><g filter="url(#blur)">
<rect x="85.5" y="500.9" width="20" height="5.8" rx="2.6" fill="#000" fill-opacity="0.52"/>
<rect x="88" y="501.1" width="16" height="3" rx="1.5" fill="#000" fill-opacity="0.15"/>
<rect x="113" y="501.8" width="15" height="4.4" rx="2.2" fill="#000" fill-opacity="0.07"/>
<rect x="135.3" y="499.9" width="17.7" height="6" rx="2.6" fill="#000" fill-opacity="0.6"/>
<rect x="138" y="501" width="13" height="2.8" rx="1.4" fill="#000" fill-opacity="0.25"/>
<rect x="135.6" y="503.2" width="17" height="6" rx="2.6" fill="#000" fill-opacity="0.2"/>
<rect x="157.2" y="499.9" width="16.6" height="5" rx="2.5" fill="#000" fill-opacity="0.3"/>
<rect x="157.6" y="501.4" width="15.8" height="7.2" rx="2.6" fill="#000" fill-opacity="0.12"/>
<rect x="86" y="503.4" width="19" height="6" rx="2.6" fill="#000" fill-opacity="0.14"/>
<rect x="82" y="496" width="96" height="14" rx="2.6" fill="#000" fill-opacity="0.03"/>
</g></g>
<rect x="81.9" y="494.7" width="94.7" height="18.6" fill="none" stroke="#2a2a2a" stroke-width="0.9"/>
<text x="74.3" y="535.55" font-size="11.5" font-weight="bold" fill="#111" text-anchor="end">S6</text>
<clipPath id="cb10"><rect x="81.9" y="521.4" width="94.7" height="18.1"/></clipPath>
<rect x="81.9" y="521.4" width="94.7" height="18.1" fill="#f7f7f7"/>
<g clip-path="url(#cb10)"><g filter="url(#blur)">
<rect x="84" y="525.4" width="21.8" height="11.6" rx="2.6" fill="#000" fill-opacity="1"/>
<rect x="111" y="528" width="20.4" height="8.4" rx="2.6" fill="#000" fill-opacity="1"/>
<rect x="134.4" y="524.4" width="19.2" height="10.6" rx="2.6" fill="#000" fill-opacity="1"/>
<rect x="157.6" y="525.5" width="18.6" height="9.6" rx="2.6" fill="#000" fill-opacity="1"/>
<rect x="104" y="530" width="9" height="5.2" rx="2.6" fill="#000" fill-opacity="0.55"/>
<rect x="130" y="528.8" width="6" height="5.6" rx="2.6" fill="#000" fill-opacity="0.6"/>
<rect x="152" y="527.4" width="8" height="6.4" rx="2.6" fill="#000" fill-opacity="0.5"/>
<rect x="82" y="523" width="96" height="16" rx="2.6" fill="#000" fill-opacity="0.09"/>
</g></g>
<rect x="81.9" y="521.4" width="94.7" height="18.1" fill="none" stroke="#2a2a2a" stroke-width="0.9"/>
</g>
<g id="panelD">
<text x="300.2" y="218.2" font-size="17.2" font-weight="bold" fill="#000" text-anchor="start" stroke="#000" stroke-width="0.35">D</text>
<text x="386.3" y="240.4" font-size="11.3" font-weight="bold" fill="#111" text-anchor="middle" text-decoration="underline">Tyr (TAT)</text>
<rect x="334.55" y="248.3" width="3.4" height="6.4" fill="#2b4db8"/>
<text x="336.25" y="265.3" font-size="7.8" font-weight="normal" fill="#1f9a4a" text-anchor="middle" stroke="#1f9a4a" stroke-width="0.25">A</text>
<rect x="342.05" y="246.5" width="3.4" height="8.2" fill="#2b4db8"/>
<text x="343.75" y="265.3" font-size="7.8" font-weight="normal" fill="#2746b4" text-anchor="middle" stroke="#2746b4" stroke-width="0.25">C</text>
<rect x="349.55" y="247.5" width="3.4" height="7.2" fill="#2b4db8"/>
<text x="351.25" y="265.3" font-size="7.8" font-weight="normal" fill="#1f9a4a" text-anchor="middle" stroke="#1f9a4a" stroke-width="0.25">A</text>
<rect x="357.05" y="248.3" width="3.4" height="6.4" fill="#2b4db8"/>
<text x="358.75" y="265.3" font-size="7.8" font-weight="normal" fill="#d8343c" text-anchor="middle" stroke="#d8343c" stroke-width="0.25">T</text>
<rect x="367.05" y="246.3" width="3.4" height="8.4" fill="#2b4db8"/>
<text x="368.75" y="265.3" font-size="7.8" font-weight="normal" fill="#222" text-anchor="middle" stroke="#222" stroke-width="0.25">G</text>
<rect x="375.8" y="246.9" width="3.4" height="7.8" fill="#2b4db8"/>
<text x="377.5" y="265.3" font-size="7.8" font-weight="normal" fill="#d8343c" text-anchor="middle" stroke="#d8343c" stroke-width="0.25">T</text>
<rect x="383.8" y="246.9" width="3.4" height="7.8" fill="#2b4db8"/>
<text x="385.5" y="265.3" font-size="7.8" font-weight="normal" fill="#1f9a4a" text-anchor="middle" stroke="#1f9a4a" stroke-width="0.25">A</text>
<rect x="392.05" y="247.1" width="3.4" height="7.6" fill="#2b4db8"/>
<text x="393.75" y="265.3" font-size="7.8" font-weight="normal" fill="#d8343c" text-anchor="middle" stroke="#d8343c" stroke-width="0.25">T</text>
<rect x="400.8" y="247.1" width="3.4" height="7.6" fill="#2b4db8"/>
<text x="402.5" y="265.3" font-size="7.8" font-weight="normal" fill="#222" text-anchor="middle" stroke="#222" stroke-width="0.25">G</text>
<rect x="410.3" y="247.1" width="3.4" height="7.6" fill="#2b4db8"/>
<text x="412" y="265.3" font-size="7.8" font-weight="normal" fill="#1f9a4a" text-anchor="middle" stroke="#1f9a4a" stroke-width="0.25">A</text>
<rect x="418.3" y="246.5" width="3.4" height="8.2" fill="#2b4db8"/>
<text x="420" y="265.3" font-size="7.8" font-weight="normal" fill="#d8343c" text-anchor="middle" stroke="#d8343c" stroke-width="0.25">T</text>
<rect x="425.8" y="248.1" width="3.4" height="6.6" fill="#2b4db8"/>
<text x="427.5" y="265.3" font-size="7.8" font-weight="normal" fill="#1f9a4a" text-anchor="middle" stroke="#1f9a4a" stroke-width="0.25">A</text>
<text x="332.5" y="279.1" font-size="7.6" font-weight="normal" fill="#222" text-anchor="middle">5</text>
<text x="368.75" y="279.1" font-size="7.6" font-weight="normal" fill="#222" text-anchor="middle">190</text>
<text x="411" y="279.1" font-size="7.6" font-weight="normal" fill="#222" text-anchor="middle">195</text>
<clipPath id="cc1"><rect x="332.4" y="264.2" width="100.3" height="82"/></clipPath><g clip-path="url(#cc1)">
<path d="M328.75 344.04L329.34 343.87L329.93 343.54L330.52 342.94L331.11 341.95L331.7 340.39L332.29 338.08L332.88 334.92L333.46 330.88L334.05 326.12L334.64 320.99L335.23 316.01L335.82 311.81L336.41 308.99L337 308L337.59 308.99L338.18 311.81L338.77 316.01L339.36 320.99L339.95 326.12L340.54 330.88L341.12 334.92L341.71 338.08L342.3 340.39L342.89 341.95L343.48 342.94L344.07 343.54L344.66 343.87L345.25 344.04" fill="none" stroke="#1f9a4a" stroke-width="1.3" stroke-linejoin="round"/>
<path d="M335.65 344.09L336.24 343.97L336.83 343.73L337.42 343.32L338.01 342.62L338.6 341.52L339.19 339.91L339.77 337.69L340.36 334.86L340.95 331.52L341.54 327.91L342.13 324.42L342.72 321.47L343.31 319.5L343.9 318.8L344.49 319.5L345.08 321.47L345.67 324.42L346.26 327.91L346.85 331.52L347.44 334.86L348.02 337.69L348.61 339.91L349.2 341.52L349.79 342.62L350.38 343.32L350.97 343.73L351.56 343.97L352.15 344.09" fill="none" stroke="#2746b4" stroke-width="1.3" stroke-linejoin="round"/>
<path d="M343.45 344.11L344.04 344.02L344.63 343.84L345.22 343.51L345.81 342.96L346.4 342.1L346.99 340.84L347.57 339.1L348.16 336.88L348.75 334.26L349.34 331.44L349.93 328.7L350.52 326.39L351.11 324.85L351.7 324.3L352.29 324.85L352.88 326.39L353.47 328.7L354.06 331.44L354.65 334.26L355.24 336.88L355.82 339.1L356.41 340.84L357 342.1L357.59 342.96L358.18 343.51L358.77 343.84L359.36 344.02L359.95 344.11" fill="none" stroke="#1f9a4a" stroke-width="1.3" stroke-linejoin="round"/>
<path d="M351.95 344.07L352.54 343.92L353.13 343.64L353.72 343.14L354.31 342.29L354.9 340.96L355.49 339.01L356.07 336.33L356.66 332.91L357.25 328.87L357.84 324.52L358.43 320.29L359.02 316.73L359.61 314.34L360.2 313.5L360.79 314.34L361.38 316.73L361.97 320.29L362.56 324.52L363.15 328.87L363.74 332.91L364.32 336.33L364.91 339.01L365.5 340.96L366.09 342.29L366.68 343.14L367.27 343.64L367.86 343.92L368.45 344.07" fill="none" stroke="#d8343c" stroke-width="1.3" stroke-linejoin="round"/>
<path d="M360.15 344.05L360.74 343.88L361.33 343.57L361.92 343L362.51 342.05L363.1 340.55L363.69 338.35L364.27 335.33L364.86 331.47L365.45 326.92L366.04 322.02L366.63 317.25L367.22 313.24L367.81 310.55L368.4 309.6L368.99 310.55L369.58 313.24L370.17 317.25L370.76 322.02L371.35 326.92L371.94 331.47L372.52 335.33L373.11 338.35L373.7 340.55L374.29 342.05L374.88 343L375.47 343.57L376.06 343.88L376.65 344.05" fill="none" stroke="#222" stroke-width="1.3" stroke-linejoin="round"/>
<path d="M369.25 344.11L369.84 344L370.43 343.81L371.02 343.45L371.61 342.86L372.2 341.93L372.79 340.57L373.38 338.69L373.96 336.29L374.55 333.46L375.14 330.42L375.73 327.46L376.32 324.96L376.91 323.29L377.5 322.7L378.09 323.29L378.68 324.96L379.27 327.46L379.86 330.42L380.45 333.46L381.04 336.29L381.62 338.69L382.21 340.57L382.8 341.93L383.39 342.86L383.98 343.45L384.57 343.81L385.16 344L385.75 344.11" fill="none" stroke="#d8343c" stroke-width="1.3" stroke-linejoin="round"/>
<path d="M377.45 344.1L378.04 344L378.63 343.79L379.22 343.43L379.81 342.82L380.4 341.86L380.99 340.45L381.57 338.51L382.16 336.03L382.75 333.12L383.34 329.97L383.93 326.91L384.52 324.33L385.11 322.61L385.7 322L386.29 322.61L386.88 324.33L387.47 326.91L388.06 329.97L388.65 333.12L389.24 336.03L389.82 338.51L390.41 340.45L391 341.86L391.59 342.82L392.18 343.43L392.77 343.79L393.36 344L393.95 344.1" fill="none" stroke="#1f9a4a" stroke-width="1.3" stroke-linejoin="round"/>
<path d="M385.95 344.09L386.54 343.96L387.13 343.72L387.72 343.28L388.31 342.56L388.9 341.42L389.49 339.74L390.07 337.43L390.66 334.49L391.25 331.02L391.84 327.27L392.43 323.64L393.02 320.58L393.61 318.52L394.2 317.8L394.79 318.52L395.38 320.58L395.97 323.64L396.56 327.27L397.15 331.02L397.74 334.49L398.32 337.43L398.91 339.74L399.5 341.42L400.09 342.56L400.68 343.28L401.27 343.72L401.86 343.96L402.45 344.09" fill="none" stroke="#d8343c" stroke-width="1.3" stroke-linejoin="round"/>
<path d="M394.75 344.08L395.34 343.94L395.93 343.67L396.52 343.2L397.11 342.42L397.7 341.18L398.29 339.35L398.88 336.84L399.46 333.64L400.05 329.87L400.64 325.8L401.23 321.85L401.82 318.52L402.41 316.29L403 315.5L403.59 316.29L404.18 318.52L404.77 321.85L405.36 325.8L405.95 329.87L406.54 333.64L407.12 336.84L407.71 339.35L408.3 341.18L408.89 342.42L409.48 343.2L410.07 343.67L410.66 343.94L411.25 344.08" fill="none" stroke="#222" stroke-width="1.3" stroke-linejoin="round"/>
<path d="M403.95 343.99L404.54 343.76L405.13 343.33L405.72 342.55L406.31 341.24L406.9 339.17L407.49 336.14L408.07 331.97L408.66 326.65L409.25 320.38L409.84 313.62L410.43 307.05L411.02 301.52L411.61 297.81L412.2 296.5L412.79 297.81L413.38 301.52L413.97 307.05L414.56 313.62L415.15 320.38L415.74 326.65L416.32 331.97L416.91 336.14L417.5 339.17L418.09 341.24L418.68 342.55L419.27 343.33L419.86 343.76L420.45 343.99" fill="none" stroke="#1f9a4a" stroke-width="1.3" stroke-linejoin="round"/>
<path d="M411.75 344.1L412.34 343.99L412.93 343.79L413.52 343.42L414.11 342.8L414.7 341.83L415.29 340.4L415.88 338.43L416.46 335.92L417.05 332.97L417.64 329.77L418.23 326.68L418.82 324.07L419.41 322.32L420 321.7L420.59 322.32L421.18 324.07L421.77 326.68L422.36 329.77L422.95 332.97L423.54 335.92L424.12 338.43L424.71 340.4L425.3 341.83L425.89 342.8L426.48 343.42L427.07 343.79L427.66 343.99L428.25 344.1" fill="none" stroke="#d8343c" stroke-width="1.3" stroke-linejoin="round"/>
<path d="M419.55 344.1L420.14 343.98L420.73 343.76L421.32 343.36L421.91 342.7L422.5 341.65L423.09 340.11L423.68 338L424.26 335.3L424.85 332.12L425.44 328.68L426.03 325.35L426.62 322.55L427.21 320.66L427.8 320L428.39 320.66L428.98 322.55L429.57 325.35L430.16 328.68L430.75 332.12L431.34 335.3L431.93 338L432.51 340.11L433.1 341.65L433.69 342.7L434.28 343.36L434.87 343.76L435.46 343.98L436.05 344.1" fill="none" stroke="#1f9a4a" stroke-width="1.3" stroke-linejoin="round"/>
</g>
<line x1="332.4" x2="432.7" y1="344.6" y2="344.6" stroke="#222" stroke-width="1.1"/>
<line x1="335.4" x2="335.4" y1="345" y2="348.2" stroke="#8a2a2a" stroke-width="0.7"/>
<line x1="343.2" x2="343.2" y1="345" y2="348.2" stroke="#8a2a2a" stroke-width="0.7"/>
<line x1="351" x2="351" y1="345" y2="348.2" stroke="#8a2a2a" stroke-width="0.7"/>
<line x1="358.8" x2="358.8" y1="345" y2="348.2" stroke="#8a2a2a" stroke-width="0.7"/>
<line x1="366.6" x2="366.6" y1="345" y2="348.2" stroke="#8a2a2a" stroke-width="0.7"/>
<line x1="374.4" x2="374.4" y1="345" y2="348.2" stroke="#8a2a2a" stroke-width="0.7"/>
<line x1="382.2" x2="382.2" y1="345" y2="348.2" stroke="#8a2a2a" stroke-width="0.7"/>
<line x1="390" x2="390" y1="345" y2="348.2" stroke="#8a2a2a" stroke-width="0.7"/>
<line x1="397.8" x2="397.8" y1="345" y2="348.2" stroke="#8a2a2a" stroke-width="0.7"/>
<line x1="405.6" x2="405.6" y1="345" y2="348.2" stroke="#8a2a2a" stroke-width="0.7"/>
<line x1="413.4" x2="413.4" y1="345" y2="348.2" stroke="#8a2a2a" stroke-width="0.7"/>
<line x1="421.2" x2="421.2" y1="345" y2="348.2" stroke="#8a2a2a" stroke-width="0.7"/>
<line x1="429" x2="429" y1="345" y2="348.2" stroke="#8a2a2a" stroke-width="0.7"/>
<line x1="336.2" x2="336.2" y1="345" y2="350.6" stroke="#555" stroke-width="0.9"/>
<text x="337.6" y="359.8" font-size="6.8" font-weight="normal" fill="#666" text-anchor="middle">200</text>
<text x="371" y="359.8" font-size="6.8" font-weight="normal" fill="#666" text-anchor="middle">2,250</text>
<text x="406.5" y="359.8" font-size="6.8" font-weight="normal" fill="#666" text-anchor="middle">2,300</text>
<path d="M377.6 344.6L382.1 349.5L379.85 349.5L379.85 355.4L375.35 355.4L375.35 349.5L373.1 349.5Z" fill="#9c9c9c" stroke="#2e2e2e" stroke-width="0.9" stroke-linejoin="miter"/>
<path d="M386.8 344.6L391.3 349.5L389.05 349.5L389.05 355.4L384.55 355.4L384.55 349.5L382.3 349.5Z" fill="#9c9c9c" stroke="#2e2e2e" stroke-width="0.9" stroke-linejoin="miter"/>
<text x="437.8" y="303.8" font-size="13.9" font-weight="normal" fill="#111" text-anchor="start">Control</text>
<text x="437.8" y="320.1" font-size="13.9" font-weight="normal" fill="#111" text-anchor="start">tumor</text>
<text x="385.9" y="393.3" font-size="11.65" font-weight="bold" fill="#111" text-anchor="middle" text-decoration="underline">Tyr (TAT) <tspan font-family="DejaVu Sans, sans-serif" font-size="10.5" dy="0.3">→</tspan><tspan dy="-0.3"> His (CAT) or Cys (TGT)</tspan></text>
<rect x="335.1" y="401.7" width="3.8" height="7.2" fill="#2b4db8"/>
<text x="337.5" y="419.6" font-size="8.4" font-weight="normal" fill="#1f9a4a" text-anchor="middle" stroke="#1f9a4a" stroke-width="0.25">A</text>
<rect x="342.6" y="400.5" width="3.8" height="8.4" fill="#2b4db8"/>
<text x="345" y="419.6" font-size="8.4" font-weight="normal" fill="#2746b4" text-anchor="middle" stroke="#2746b4" stroke-width="0.25">C</text>
<rect x="350.1" y="400.7" width="3.8" height="8.2" fill="#2b4db8"/>
<text x="352.5" y="419.6" font-size="8.4" font-weight="normal" fill="#1f9a4a" text-anchor="middle" stroke="#1f9a4a" stroke-width="0.25">A</text>
<rect x="358.1" y="400.5" width="3.8" height="8.4" fill="#2b4db8"/>
<text x="359.7" y="419.6" font-size="8.4" font-weight="normal" fill="#d8343c" text-anchor="middle" stroke="#d8343c" stroke-width="0.25">T</text>
<rect x="366.85" y="402.5" width="3.8" height="6.4" fill="#2b4db8"/>
<text x="370" y="419.6" font-size="8.4" font-weight="normal" fill="#222" text-anchor="middle" stroke="#222" stroke-width="0.25">G</text>
<rect x="376.1" y="405.9" width="3.8" height="3" fill="#2b4db8"/>
<text x="378" y="419.6" font-size="8.4" font-weight="normal" fill="#d8343c" text-anchor="middle" stroke="#d8343c" stroke-width="0.25">T</text>
<rect x="384.35" y="405.7" width="3.8" height="3.2" fill="#2b4db8"/>
<text x="386.1" y="419.6" font-size="8.4" font-weight="normal" fill="#1f9a4a" text-anchor="middle" stroke="#1f9a4a" stroke-width="0.25">A</text>
<rect x="392.6" y="404.9" width="3.8" height="4" fill="#2b4db8"/>
<text x="393.75" y="419.6" font-size="8.4" font-weight="normal" fill="#d8343c" text-anchor="middle" stroke="#d8343c" stroke-width="0.25">T</text>
<rect x="400.1" y="403.3" width="3.8" height="5.6" fill="#2b4db8"/>
<text x="405" y="419.6" font-size="8.4" font-weight="normal" fill="#222" text-anchor="middle" stroke="#222" stroke-width="0.25">G</text>
<rect x="410.1" y="401.7" width="3.8" height="7.2" fill="#2b4db8"/>
<text x="413.5" y="419.6" font-size="8.4" font-weight="normal" fill="#1f9a4a" text-anchor="middle" stroke="#1f9a4a" stroke-width="0.25">A</text>
<rect x="419.35" y="400.5" width="3.8" height="8.4" fill="#2b4db8"/>
<text x="421.25" y="419.6" font-size="8.4" font-weight="normal" fill="#d8343c" text-anchor="middle" stroke="#d8343c" stroke-width="0.25">T</text>
<rect x="427.6" y="400.5" width="3.8" height="8.4" fill="#2b4db8"/>
<text x="430" y="419.6" font-size="8.4" font-weight="normal" fill="#1f9a4a" text-anchor="middle" stroke="#1f9a4a" stroke-width="0.25">A</text>
<text x="352.3" y="433.2" font-size="8.5" font-weight="normal" fill="#222" text-anchor="middle">200</text>
<text x="395" y="433.2" font-size="8.5" font-weight="normal" fill="#222" text-anchor="middle">205</text>
<text x="432.5" y="433.2" font-size="8.5" font-weight="normal" fill="#222" text-anchor="middle">2</text>
<clipPath id="cc2"><rect x="332.4" y="418.1" width="101.3" height="82"/></clipPath><g clip-path="url(#cc2)">
<path d="M329.75 497.96L330.34 497.79L330.93 497.49L331.52 496.94L332.11 496.02L332.7 494.57L333.29 492.44L333.88 489.51L334.46 485.78L335.05 481.37L335.64 476.62L336.23 472.01L336.82 468.12L337.41 465.52L338 464.6L338.59 465.52L339.18 468.12L339.77 472.01L340.36 476.62L340.95 481.37L341.54 485.78L342.12 489.51L342.71 492.44L343.3 494.57L343.89 496.02L344.48 496.94L345.07 497.49L345.66 497.79L346.25 497.96" fill="none" stroke="#1f9a4a" stroke-width="1.3" stroke-linejoin="round"/>
<path d="M336.55 498L337.14 497.88L337.73 497.66L338.32 497.26L338.91 496.59L339.5 495.54L340.09 493.99L340.68 491.87L341.26 489.16L341.85 485.97L342.44 482.52L343.03 479.18L343.62 476.36L344.21 474.47L344.8 473.8L345.39 474.47L345.98 476.36L346.57 479.18L347.16 482.52L347.75 485.97L348.34 489.16L348.93 491.87L349.51 493.99L350.1 495.54L350.69 496.59L351.28 497.26L351.87 497.66L352.46 497.88L353.05 498" fill="none" stroke="#2746b4" stroke-width="1.3" stroke-linejoin="round"/>
<path d="M344.15 498.02L344.74 497.93L345.33 497.76L345.92 497.45L346.51 496.93L347.1 496.12L347.69 494.92L348.27 493.28L348.86 491.18L349.45 488.71L350.04 486.05L350.63 483.46L351.22 481.28L351.81 479.82L352.4 479.3L352.99 479.82L353.58 481.28L354.17 483.46L354.76 486.05L355.35 488.71L355.94 491.18L356.52 493.28L357.11 494.92L357.7 496.12L358.29 496.93L358.88 497.45L359.47 497.76L360.06 497.93L360.65 498.02" fill="none" stroke="#1f9a4a" stroke-width="1.3" stroke-linejoin="round"/>
<path d="M352.55 497.97L353.14 497.83L353.73 497.57L354.32 497.09L354.91 496.28L355.5 495.02L356.09 493.17L356.68 490.61L357.26 487.36L357.85 483.52L358.44 479.38L359.03 475.36L359.62 471.97L360.21 469.7L360.8 468.9L361.39 469.7L361.98 471.97L362.57 475.36L363.16 479.38L363.75 483.52L364.34 487.36L364.93 490.61L365.51 493.17L366.1 495.02L366.69 496.28L367.28 497.09L367.87 497.57L368.46 497.83L369.05 497.97" fill="none" stroke="#d8343c" stroke-width="1.3" stroke-linejoin="round"/>
<path d="M360.75 497.95L361.34 497.78L361.93 497.47L362.52 496.9L363.11 495.96L363.7 494.46L364.29 492.27L364.88 489.26L365.46 485.41L366.05 480.87L366.64 475.98L367.23 471.23L367.82 467.23L368.41 464.55L369 463.6L369.59 464.55L370.18 467.23L370.77 471.23L371.36 475.98L371.95 480.87L372.54 485.41L373.12 489.26L373.71 492.27L374.3 494.46L374.89 495.96L375.48 496.9L376.07 497.47L376.66 497.78L377.25 497.95" fill="none" stroke="#222" stroke-width="1.3" stroke-linejoin="round"/>
<path d="M369.95 498.02L370.54 497.93L371.13 497.76L371.72 497.45L372.31 496.93L372.9 496.12L373.49 494.92L374.07 493.28L374.66 491.18L375.25 488.71L375.84 486.05L376.43 483.46L377.02 481.28L377.61 479.82L378.2 479.3L378.79 479.82L379.38 481.28L379.97 483.46L380.56 486.05L381.15 488.71L381.74 491.18L382.32 493.28L382.91 494.92L383.5 496.12L384.09 496.93L384.68 497.45L385.27 497.76L385.86 497.93L386.45 498.02" fill="none" stroke="#d8343c" stroke-width="1.3" stroke-linejoin="round"/>
<path d="M378.05 498.02L378.64 497.94L379.23 497.77L379.82 497.48L380.41 496.99L381 496.22L381.59 495.09L382.18 493.54L382.76 491.55L383.35 489.21L383.94 486.69L384.53 484.24L385.12 482.17L385.71 480.79L386.3 480.3L386.89 480.79L387.48 482.17L388.07 484.24L388.66 486.69L389.25 489.21L389.84 491.55L390.43 493.54L391.01 495.09L391.6 496.22L392.19 496.99L392.78 497.48L393.37 497.77L393.96 497.94L394.55 498.02" fill="none" stroke="#1f9a4a" stroke-width="1.3" stroke-linejoin="round"/>
<path d="M386.55 498L387.14 497.88L387.73 497.66L388.32 497.26L388.91 496.59L389.5 495.54L390.09 493.99L390.68 491.87L391.26 489.16L391.85 485.97L392.44 482.52L393.03 479.18L393.62 476.36L394.21 474.47L394.8 473.8L395.39 474.47L395.98 476.36L396.57 479.18L397.16 482.52L397.75 485.97L398.34 489.16L398.93 491.87L399.51 493.99L400.1 495.54L400.69 496.59L401.28 497.26L401.87 497.66L402.46 497.88L403.05 498" fill="none" stroke="#d8343c" stroke-width="1.3" stroke-linejoin="round"/>
<path d="M395.75 497.97L396.34 497.83L396.93 497.56L397.52 497.07L398.11 496.26L398.7 494.98L399.29 493.1L399.88 490.51L400.46 487.21L401.05 483.32L401.64 479.12L402.23 475.05L402.82 471.61L403.41 469.31L404 468.5L404.59 469.31L405.18 471.61L405.77 475.05L406.36 479.12L406.95 483.32L407.54 487.21L408.12 490.51L408.71 493.1L409.3 494.98L409.89 496.26L410.48 497.07L411.07 497.56L411.66 497.83L412.25 497.97" fill="none" stroke="#222" stroke-width="1.3" stroke-linejoin="round"/>
<path d="M404.85 497.91L405.44 497.7L406.03 497.3L406.62 496.58L407.21 495.37L407.8 493.47L408.39 490.68L408.98 486.85L409.56 481.95L410.15 476.18L410.74 469.95L411.33 463.91L411.92 458.82L412.51 455.4L413.1 454.2L413.69 455.4L414.28 458.82L414.87 463.91L415.46 469.95L416.05 476.18L416.64 481.95L417.23 486.85L417.81 490.68L418.4 493.47L418.99 495.37L419.58 496.58L420.17 497.3L420.76 497.7L421.35 497.91" fill="none" stroke="#1f9a4a" stroke-width="1.3" stroke-linejoin="round"/>
<path d="M413.05 498.01L413.64 497.91L414.23 497.71L414.82 497.37L415.41 496.79L416 495.88L416.59 494.53L417.18 492.69L417.76 490.34L418.35 487.56L418.94 484.57L419.53 481.67L420.12 479.22L420.71 477.58L421.3 477L421.89 477.58L422.48 479.22L423.07 481.67L423.66 484.57L424.25 487.56L424.84 490.34L425.43 492.69L426.01 494.53L426.6 495.88L427.19 496.79L427.78 497.37L428.37 497.71L428.96 497.91L429.55 498.01" fill="none" stroke="#d8343c" stroke-width="1.3" stroke-linejoin="round"/>
<path d="M421.25 498L421.84 497.89L422.43 497.68L423.02 497.31L423.61 496.69L424.2 495.71L424.79 494.26L425.38 492.28L425.96 489.75L426.55 486.77L427.14 483.55L427.73 480.42L428.32 477.79L428.91 476.02L429.5 475.4L430.09 476.02L430.68 477.79L431.27 480.42L431.86 483.55L432.45 486.77L433.04 489.75L433.62 492.28L434.21 494.26L434.8 495.71L435.39 496.69L435.98 497.31L436.57 497.68L437.16 497.89L437.75 498" fill="none" stroke="#1f9a4a" stroke-width="1.3" stroke-linejoin="round"/>
<path d="M371 498.08L371.47 498.07L371.94 498.04L372.41 497.98L372.89 497.88L373.36 497.73L373.83 497.51L374.3 497.2L374.77 496.81L375.24 496.35L375.71 495.86L376.19 495.37L376.66 494.97L377.13 494.7L377.6 494.6L378.07 494.7L378.54 494.97L379.01 495.37L379.49 495.86L379.96 496.35L380.43 496.81L380.9 497.2L381.37 497.51L381.84 497.73L382.31 497.88L382.79 497.98L383.26 498.04L383.73 498.07L384.2 498.08" fill="none" stroke="#222" stroke-width="1.0"/>
<path d="M380.2 498.08L380.67 498.06L381.14 498.02L381.61 497.95L382.09 497.83L382.56 497.65L383.03 497.37L383.5 497L383.97 496.52L384.44 495.95L384.91 495.34L385.39 494.75L385.86 494.25L386.33 493.92L386.8 493.8L387.27 493.92L387.74 494.25L388.21 494.75L388.69 495.34L389.16 495.95L389.63 496.52L390.1 497L390.57 497.37L391.04 497.65L391.51 497.83L391.99 497.95L392.46 498.02L392.93 498.06L393.4 498.08" fill="none" stroke="#2746b4" stroke-width="1.0"/>
</g>
<line x1="332.4" x2="433.7" y1="498.5" y2="498.5" stroke="#222" stroke-width="1.1"/>
<line x1="332.8" x2="332.8" y1="498.9" y2="503.1" stroke="#333" stroke-width="0.9"/>
<line x1="340.3" x2="340.3" y1="498.9" y2="503.1" stroke="#333" stroke-width="0.9"/>
<line x1="347.8" x2="347.8" y1="498.9" y2="503.1" stroke="#333" stroke-width="0.9"/>
<line x1="355.3" x2="355.3" y1="498.9" y2="503.1" stroke="#333" stroke-width="0.9"/>
<line x1="362.8" x2="362.8" y1="498.9" y2="503.1" stroke="#333" stroke-width="0.9"/>
<line x1="370.3" x2="370.3" y1="498.9" y2="503.1" stroke="#333" stroke-width="0.9"/>
<line x1="377.8" x2="377.8" y1="498.9" y2="503.1" stroke="#333" stroke-width="0.9"/>
<line x1="385.3" x2="385.3" y1="498.9" y2="503.1" stroke="#333" stroke-width="0.9"/>
<line x1="392.8" x2="392.8" y1="498.9" y2="503.1" stroke="#333" stroke-width="0.9"/>
<line x1="400.3" x2="400.3" y1="498.9" y2="503.1" stroke="#333" stroke-width="0.9"/>
<line x1="407.8" x2="407.8" y1="498.9" y2="503.1" stroke="#333" stroke-width="0.9"/>
<line x1="415.3" x2="415.3" y1="498.9" y2="503.1" stroke="#333" stroke-width="0.9"/>
<line x1="422.8" x2="422.8" y1="498.9" y2="503.1" stroke="#333" stroke-width="0.9"/>
<line x1="430.3" x2="430.3" y1="498.9" y2="503.1" stroke="#333" stroke-width="0.9"/>
<line x1="368.2" x2="368.2" y1="498.9" y2="504.5" stroke="#1c5a30" stroke-width="0.9"/>
<text x="335.6" y="514.2" font-size="7.2" font-weight="normal" fill="#666" text-anchor="middle">50</text>
<text x="367.1" y="514.2" font-size="7.2" font-weight="normal" fill="#666" text-anchor="middle">2,400</text>
<text x="406" y="514.2" font-size="7.2" font-weight="normal" fill="#666" text-anchor="middle">2,450</text>
<text x="432" y="514.2" font-size="7.2" font-weight="normal" fill="#666" text-anchor="middle">2</text>
<path d="M377.6 498.4L382.1 503.3L379.85 503.3L379.85 510.2L375.35 510.2L375.35 503.3L373.1 503.3Z" fill="#9c9c9c" stroke="#2e2e2e" stroke-width="0.9" stroke-linejoin="miter"/>
<path d="M386.8 498.4L391.3 503.3L389.05 503.3L389.05 510.2L384.55 510.2L384.55 503.3L382.3 503.3Z" fill="#9c9c9c" stroke="#2e2e2e" stroke-width="0.9" stroke-linejoin="miter"/>
<text x="445.2" y="435.8" font-size="13.8" font-weight="normal" fill="#111" text-anchor="start">Resistant</text>
<text x="445.2" y="452.5" font-size="13.8" font-weight="normal" fill="#111" text-anchor="start">tumor</text>
<text x="385.9" y="550.2" font-size="11.65" font-weight="bold" fill="#111" text-anchor="middle" text-decoration="underline">Tyr (TAT) <tspan font-family="DejaVu Sans, sans-serif" font-size="10.5" dy="0.3">→</tspan><tspan dy="-0.3"> His (CAT) or Cys (TGT)</tspan></text>
<rect x="335.1" y="553.8" width="3.8" height="7.6" fill="#2b4db8"/>
<text x="337.5" y="571.7" font-size="8.4" font-weight="normal" fill="#1f9a4a" text-anchor="middle" stroke="#1f9a4a" stroke-width="0.25">A</text>
<rect x="342.6" y="553" width="3.8" height="8.4" fill="#2b4db8"/>
<text x="345" y="571.7" font-size="8.4" font-weight="normal" fill="#2746b4" text-anchor="middle" stroke="#2746b4" stroke-width="0.25">C</text>
<rect x="350.1" y="553.2" width="3.8" height="8.2" fill="#2b4db8"/>
<text x="352.5" y="571.7" font-size="8.4" font-weight="normal" fill="#1f9a4a" text-anchor="middle" stroke="#1f9a4a" stroke-width="0.25">A</text>
<rect x="358.1" y="553.4" width="3.8" height="8" fill="#2b4db8"/>
<text x="359.7" y="571.7" font-size="8.4" font-weight="normal" fill="#d8343c" text-anchor="middle" stroke="#d8343c" stroke-width="0.25">T</text>
<rect x="366.85" y="552.8" width="3.8" height="8.6" fill="#2b4db8"/>
<text x="370" y="571.7" font-size="8.4" font-weight="normal" fill="#222" text-anchor="middle" stroke="#222" stroke-width="0.25">G</text>
<rect x="376.1" y="557.8" width="3.8" height="3.6" fill="#2b4db8"/>
<text x="378" y="571.7" font-size="8.4" font-weight="normal" fill="#d8343c" text-anchor="middle" stroke="#d8343c" stroke-width="0.25">T</text>
<rect x="384.35" y="558" width="3.8" height="3.4" fill="#2b4db8"/>
<text x="386.1" y="571.7" font-size="8.4" font-weight="normal" fill="#1f9a4a" text-anchor="middle" stroke="#1f9a4a" stroke-width="0.25">A</text>
<rect x="392.6" y="557.4" width="3.8" height="4" fill="#2b4db8"/>
<text x="393.75" y="571.7" font-size="8.4" font-weight="normal" fill="#d8343c" text-anchor="middle" stroke="#d8343c" stroke-width="0.25">T</text>
<rect x="400.6" y="555.4" width="3.8" height="6" fill="#2b4db8"/>
<text x="405" y="571.7" font-size="8.4" font-weight="normal" fill="#222" text-anchor="middle" stroke="#222" stroke-width="0.25">G</text>
<rect x="410.1" y="554.2" width="3.8" height="7.2" fill="#2b4db8"/>
<text x="413.5" y="571.7" font-size="8.4" font-weight="normal" fill="#1f9a4a" text-anchor="middle" stroke="#1f9a4a" stroke-width="0.25">A</text>
<rect x="418.85" y="553" width="3.8" height="8.4" fill="#2b4db8"/>
<text x="421.25" y="571.7" font-size="8.4" font-weight="normal" fill="#d8343c" text-anchor="middle" stroke="#d8343c" stroke-width="0.25">T</text>
<rect x="426.85" y="553" width="3.8" height="8.4" fill="#2b4db8"/>
<text x="430" y="571.7" font-size="8.4" font-weight="normal" fill="#1f9a4a" text-anchor="middle" stroke="#1f9a4a" stroke-width="0.25">A</text>
<text x="337.5" y="586" font-size="8.3" font-weight="normal" fill="#222" text-anchor="middle">185</text>
<text x="378.2" y="586" font-size="8.3" font-weight="normal" fill="#222" text-anchor="middle">190</text>
<text x="420" y="586" font-size="8.3" font-weight="normal" fill="#222" text-anchor="middle">195</text>
<clipPath id="cc3"><rect x="331.5" y="571.1" width="102" height="82"/></clipPath><g clip-path="url(#cc3)">
<path d="M329.25 650.95L329.84 650.78L330.43 650.47L331.02 649.9L331.61 648.95L332.2 647.45L332.79 645.25L333.38 642.23L333.96 638.37L334.55 633.82L335.14 628.92L335.73 624.15L336.32 620.14L336.91 617.45L337.5 616.5L338.09 617.45L338.68 620.14L339.27 624.15L339.86 628.92L340.45 633.82L341.04 638.37L341.62 642.23L342.21 645.25L342.8 647.45L343.39 648.95L343.98 649.9L344.57 650.47L345.16 650.78L345.75 650.95" fill="none" stroke="#1f9a4a" stroke-width="1.3" stroke-linejoin="round"/>
<path d="M336.75 650.99L337.34 650.87L337.93 650.64L338.52 650.23L339.11 649.54L339.7 648.46L340.29 646.86L340.88 644.67L341.46 641.87L342.05 638.57L342.64 635.01L343.23 631.55L343.82 628.64L344.41 626.69L345 626L345.59 626.69L346.18 628.64L346.77 631.55L347.36 635.01L347.95 638.57L348.54 641.87L349.12 644.67L349.71 646.86L350.3 648.46L350.89 649.54L351.48 650.23L352.07 650.64L352.66 650.87L353.25 650.99" fill="none" stroke="#2746b4" stroke-width="1.3" stroke-linejoin="round"/>
<path d="M344.25 651.02L344.84 650.93L345.43 650.76L346.02 650.45L346.61 649.94L347.2 649.14L347.79 647.96L348.38 646.33L348.96 644.26L349.55 641.81L350.14 639.17L350.73 636.61L351.32 634.46L351.91 633.01L352.5 632.5L353.09 633.01L353.68 634.46L354.27 636.61L354.86 639.17L355.45 641.81L356.04 644.26L356.62 646.33L357.21 647.96L357.8 649.14L358.39 649.94L358.98 650.45L359.57 650.76L360.16 650.93L360.75 651.02" fill="none" stroke="#1f9a4a" stroke-width="1.3" stroke-linejoin="round"/>
<path d="M352.75 650.97L353.34 650.82L353.93 650.53L354.52 650.02L355.11 649.17L355.7 647.82L356.29 645.84L356.88 643.13L357.46 639.66L358.05 635.57L358.64 631.16L359.23 626.88L359.82 623.27L360.41 620.85L361 620L361.59 620.85L362.18 623.27L362.77 626.88L363.36 631.16L363.95 635.57L364.54 639.66L365.12 643.13L365.71 645.84L366.3 647.82L366.89 649.17L367.48 650.02L368.07 650.53L368.66 650.82L369.25 650.97" fill="none" stroke="#d8343c" stroke-width="1.3" stroke-linejoin="round"/>
<path d="M360.75 650.94L361.34 650.77L361.93 650.44L362.52 649.85L363.11 648.86L363.7 647.3L364.29 645L364.88 641.85L365.46 637.82L366.05 633.07L366.64 627.95L367.23 622.99L367.82 618.8L368.41 615.99L369 615L369.59 615.99L370.18 618.8L370.77 622.99L371.36 627.95L371.95 633.07L372.54 637.82L373.12 641.85L373.71 645L374.3 647.3L374.89 648.86L375.48 649.85L376.07 650.44L376.66 650.77L377.25 650.94" fill="none" stroke="#222" stroke-width="1.3" stroke-linejoin="round"/>
<path d="M369.75 651.02L370.34 650.92L370.93 650.74L371.52 650.42L372.11 649.88L372.7 649.03L373.29 647.79L373.88 646.08L374.46 643.89L375.05 641.31L375.64 638.53L376.23 635.84L376.82 633.56L377.41 632.04L378 631.5L378.59 632.04L379.18 633.56L379.77 635.84L380.36 638.53L380.95 641.31L381.54 643.89L382.12 646.08L382.71 647.79L383.3 649.03L383.89 649.88L384.48 650.42L385.07 650.74L385.66 650.92L386.25 651.02" fill="none" stroke="#d8343c" stroke-width="1.3" stroke-linejoin="round"/>
<path d="M377.75 651.02L378.34 650.93L378.93 650.76L379.52 650.45L380.11 649.94L380.7 649.14L381.29 647.96L381.88 646.33L382.46 644.26L383.05 641.81L383.64 639.17L384.23 636.61L384.82 634.46L385.41 633.01L386 632.5L386.59 633.01L387.18 634.46L387.77 636.61L388.36 639.17L388.95 641.81L389.54 644.26L390.12 646.33L390.71 647.96L391.3 649.14L391.89 649.94L392.48 650.45L393.07 650.76L393.66 650.93L394.25 651.02" fill="none" stroke="#1f9a4a" stroke-width="1.3" stroke-linejoin="round"/>
<path d="M386.25 650.99L386.84 650.86L387.43 650.62L388.02 650.19L388.61 649.48L389.2 648.35L389.79 646.69L390.38 644.41L390.96 641.5L391.55 638.07L392.14 634.37L392.73 630.77L393.32 627.74L393.91 625.72L394.5 625L395.09 625.72L395.68 627.74L396.27 630.77L396.86 634.37L397.45 638.07L398.04 641.5L398.62 644.41L399.21 646.69L399.8 648.35L400.39 649.48L400.98 650.19L401.57 650.62L402.16 650.86L402.75 650.99" fill="none" stroke="#d8343c" stroke-width="1.3" stroke-linejoin="round"/>
<path d="M395.25 650.97L395.84 650.83L396.43 650.56L397.02 650.07L397.61 649.26L398.2 647.98L398.79 646.1L399.38 643.51L399.96 640.21L400.55 636.32L401.14 632.12L401.73 628.05L402.32 624.61L402.91 622.31L403.5 621.5L404.09 622.31L404.68 624.61L405.27 628.05L405.86 632.12L406.45 636.32L407.04 640.21L407.62 643.51L408.21 646.1L408.8 647.98L409.39 649.26L409.98 650.07L410.57 650.56L411.16 650.83L411.75 650.97" fill="none" stroke="#222" stroke-width="1.3" stroke-linejoin="round"/>
<path d="M404.25 650.91L404.84 650.7L405.43 650.3L406.02 649.59L406.61 648.39L407.2 646.51L407.79 643.73L408.38 639.92L408.96 635.06L409.55 629.33L410.14 623.15L410.73 617.15L411.32 612.09L411.91 608.69L412.5 607.5L413.09 608.69L413.68 612.09L414.27 617.15L414.86 623.15L415.45 629.33L416.04 635.06L416.62 639.92L417.21 643.73L417.8 646.51L418.39 648.39L418.98 649.59L419.57 650.3L420.16 650.7L420.75 650.91" fill="none" stroke="#1f9a4a" stroke-width="1.3" stroke-linejoin="round"/>
<path d="M412.75 651L413.34 650.9L413.93 650.7L414.52 650.33L415.11 649.73L415.7 648.77L416.29 647.37L416.88 645.43L417.46 642.97L418.05 640.07L418.64 636.93L419.23 633.89L419.82 631.32L420.41 629.61L421 629L421.59 629.61L422.18 631.32L422.77 633.89L423.36 636.93L423.95 640.07L424.54 642.97L425.12 645.43L425.71 647.37L426.3 648.77L426.89 649.73L427.48 650.33L428.07 650.7L428.66 650.9L429.25 651" fill="none" stroke="#d8343c" stroke-width="1.3" stroke-linejoin="round"/>
<path d="M420.75 651L421.34 650.88L421.93 650.67L422.52 650.28L423.11 649.63L423.7 648.61L424.29 647.11L424.88 645.05L425.46 642.42L426.05 639.32L426.64 635.97L427.23 632.72L427.82 629.98L428.41 628.15L429 627.5L429.59 628.15L430.18 629.98L430.77 632.72L431.36 635.97L431.95 639.32L432.54 642.42L433.12 645.05L433.71 647.11L434.3 648.61L434.89 649.63L435.48 650.28L436.07 650.67L436.66 650.88L437.25 651" fill="none" stroke="#1f9a4a" stroke-width="1.3" stroke-linejoin="round"/>
<path d="M371 651.08L371.47 651.07L371.94 651.04L372.41 650.98L372.89 650.88L373.36 650.73L373.83 650.51L374.3 650.2L374.77 649.81L375.24 649.35L375.71 648.86L376.19 648.37L376.66 647.97L377.13 647.7L377.6 647.6L378.07 647.7L378.54 647.97L379.01 648.37L379.49 648.86L379.96 649.35L380.43 649.81L380.9 650.2L381.37 650.51L381.84 650.73L382.31 650.88L382.79 650.98L383.26 651.04L383.73 651.07L384.2 651.08" fill="none" stroke="#222" stroke-width="1.0"/>
<path d="M380.7 651.08L381.17 651.06L381.64 651.02L382.11 650.96L382.59 650.85L383.06 650.67L383.53 650.41L384 650.05L384.47 649.59L384.94 649.05L385.41 648.47L385.89 647.91L386.36 647.43L386.83 647.11L387.3 647L387.77 647.11L388.24 647.43L388.71 647.91L389.19 648.47L389.66 649.05L390.13 649.59L390.6 650.05L391.07 650.41L391.54 650.67L392.01 650.85L392.49 650.96L392.96 651.02L393.43 651.06L393.9 651.08" fill="none" stroke="#2746b4" stroke-width="1.0"/>
</g>
<line x1="331.5" x2="433.5" y1="651.5" y2="651.5" stroke="#222" stroke-width="1.1"/>
<line x1="334.2" x2="334.2" y1="651.9" y2="656.1" stroke="#7a3030" stroke-width="0.9"/>
<line x1="341.7" x2="341.7" y1="651.9" y2="656.1" stroke="#7a3030" stroke-width="0.9"/>
<line x1="349.2" x2="349.2" y1="651.9" y2="656.1" stroke="#7a3030" stroke-width="0.9"/>
<line x1="356.7" x2="356.7" y1="651.9" y2="656.1" stroke="#7a3030" stroke-width="0.9"/>
<line x1="364.2" x2="364.2" y1="651.9" y2="656.1" stroke="#7a3030" stroke-width="0.9"/>
<line x1="371.7" x2="371.7" y1="651.9" y2="656.1" stroke="#7a3030" stroke-width="0.9"/>
<line x1="379.2" x2="379.2" y1="651.9" y2="656.1" stroke="#7a3030" stroke-width="0.9"/>
<line x1="386.7" x2="386.7" y1="651.9" y2="656.1" stroke="#7a3030" stroke-width="0.9"/>
<line x1="394.2" x2="394.2" y1="651.9" y2="656.1" stroke="#7a3030" stroke-width="0.9"/>
<line x1="401.7" x2="401.7" y1="651.9" y2="656.1" stroke="#7a3030" stroke-width="0.9"/>
<line x1="409.2" x2="409.2" y1="651.9" y2="656.1" stroke="#7a3030" stroke-width="0.9"/>
<line x1="416.7" x2="416.7" y1="651.9" y2="656.1" stroke="#7a3030" stroke-width="0.9"/>
<line x1="424.2" x2="424.2" y1="651.9" y2="656.1" stroke="#7a3030" stroke-width="0.9"/>
<line x1="431.7" x2="431.7" y1="651.9" y2="656.1" stroke="#7a3030" stroke-width="0.9"/>
<line x1="341.6" x2="341.6" y1="651.9" y2="657.5" stroke="#333" stroke-width="0.9"/>
<line x1="413.2" x2="413.2" y1="651.9" y2="657.5" stroke="#1c5a30" stroke-width="0.9"/>
<text x="342" y="666.2" font-size="7.4" font-weight="normal" fill="#666" text-anchor="middle">2200</text>
<text x="378.5" y="666.2" font-size="7.4" font-weight="normal" fill="#666" text-anchor="middle">2250</text>
<text x="413" y="666.2" font-size="7.4" font-weight="normal" fill="#666" text-anchor="middle">2300</text>
<path d="M377.6 651.5L382.1 656.4L379.85 656.4L379.85 663.3L375.35 663.3L375.35 656.4L373.1 656.4Z" fill="#9c9c9c" stroke="#2e2e2e" stroke-width="0.9" stroke-linejoin="miter"/>
<path d="M387.3 651.5L391.8 656.4L389.55 656.4L389.55 663.3L385.05 663.3L385.05 656.4L382.8 656.4Z" fill="#9c9c9c" stroke="#2e2e2e" stroke-width="0.9" stroke-linejoin="miter"/>
<text x="444.5" y="598.8" font-size="13.6" font-weight="normal" fill="#111" text-anchor="start">M1</text>
</g>
<g id="panelE">
<text x="33.3" y="588.1" font-size="17.2" font-weight="bold" fill="#000" text-anchor="start" stroke="#000" stroke-width="0.35">E</text>
<text x="99.3" y="617.4" font-size="13.6" font-weight="bold" fill="#111" text-anchor="middle">Type of alleles</text>
<text x="217" y="617.4" font-size="13.6" font-weight="bold" fill="#111" text-anchor="middle">Number of</text>
<text x="217.3" y="633.9" font-size="13.6" font-weight="bold" fill="#111" text-anchor="middle">clones</text>
<text x="99.3" y="664" font-size="13.8" font-weight="normal" fill="#111" text-anchor="middle">wt/wt</text>
<text x="216.7" y="664" font-size="13.8" font-weight="normal" fill="#111" text-anchor="middle">3</text>
<text x="99.3" y="711.5" font-size="13.8" font-weight="normal" fill="#111" text-anchor="middle">wt/Y1230H</text>
<text x="98.8" y="728.8" font-size="13.8" font-weight="normal" fill="#111" text-anchor="middle">heterozygous</text>
<text x="216.7" y="711.5" font-size="13.8" font-weight="normal" fill="#111" text-anchor="middle">9</text>
<text x="99.3" y="758.4" font-size="13.8" font-weight="normal" fill="#111" text-anchor="middle">wt/Y1230C</text>
<text x="98.8" y="774.2" font-size="13.8" font-weight="normal" fill="#111" text-anchor="middle">heterozygous</text>
<text x="216.7" y="758.4" font-size="13.8" font-weight="normal" fill="#111" text-anchor="middle">3</text>
</g>
</svg></body></html>
